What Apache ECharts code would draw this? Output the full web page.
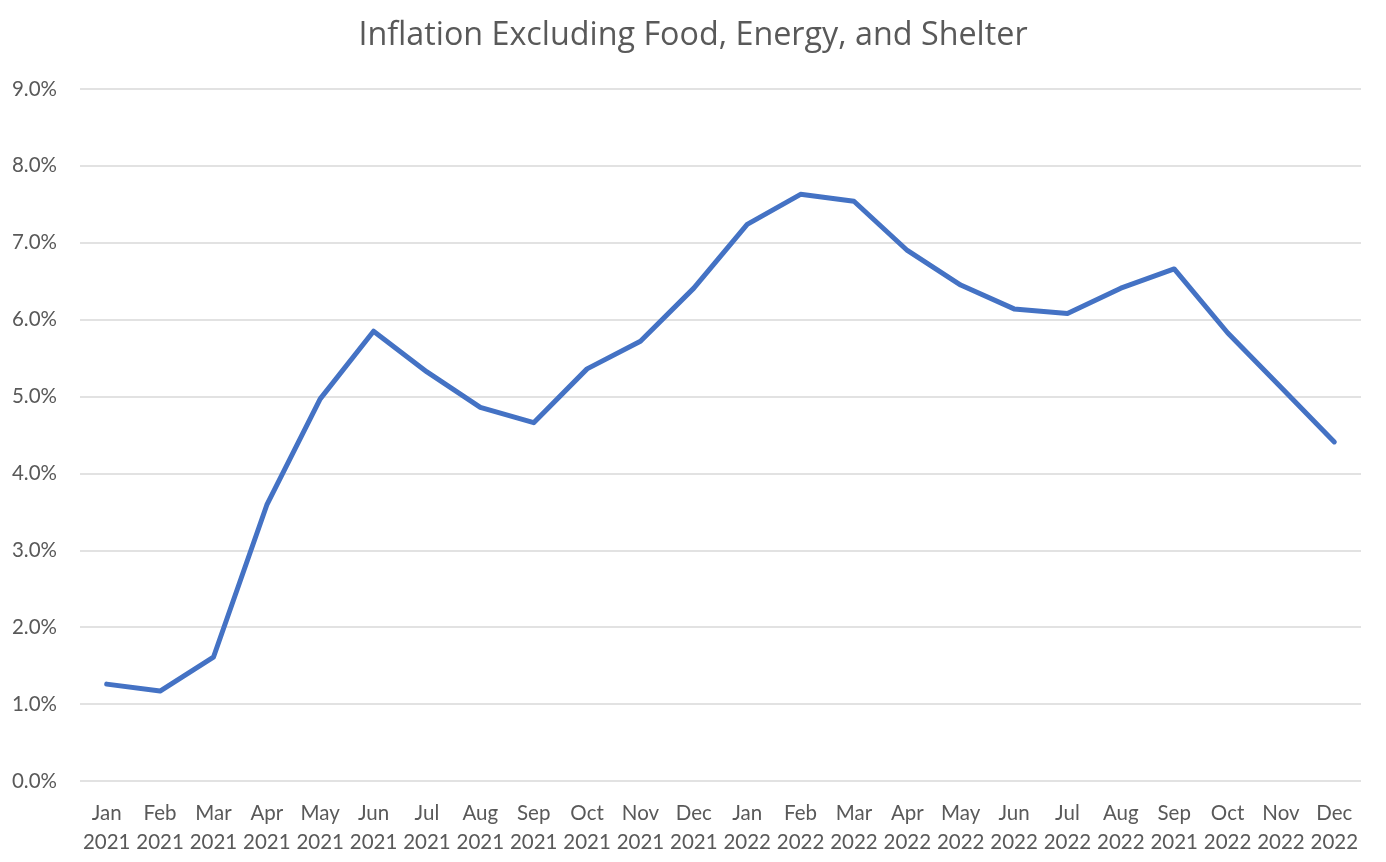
<!DOCTYPE html>
<html>
<head>
<meta charset="utf-8">
<script src="https://cdn.jsdelivr.net/npm/echarts@6/dist/echarts.min.js"></script>
<style>
  html, body { margin: 0; padding: 0; background: #fff; }
  #chart-wrap { width: 1386px; height: 862px; }
</style>
</head>
<body>
<div id="chart-wrap"></div>
<script>
const months = ["Jan", "Feb", "Mar", "Apr", "May", "Jun", "Jul", "Aug", "Sep", "Oct", "Nov", "Dec",
    "Jan", "Feb", "Mar", "Apr", "May", "Jun", "Jul", "Aug", "Sep", "Oct", "Nov", "Dec"];
const years = ["2021", "2021", "2021", "2021", "2021", "2021", "2021", "2021", "2021", "2021", "2021", "2021",
    "2022", "2022", "2022", "2022", "2022", "2022", "2022", "2022", "2021", "2022", "2022", "2022"];
// inflation in percent
const inflation = [1.26, 1.17, 1.61, 3.59, 4.97, 5.85, 5.32, 4.86, 4.66, 5.36, 5.72, 6.41,
    7.24, 7.63, 7.54, 6.90, 6.45, 6.14, 6.08, 6.41, 6.66, 5.83, 5.12, 4.41];

const categories = months.map((m, i) => m + "\n" + years[i]);
const fontName = "Lato, 'Liberation Sans', sans-serif";

function drawChart() {
    let myChart = echarts.init(document.querySelector("#chart-wrap"));
    let option = {
        backgroundColor: "#ffffff",
        animation: false,
        title: {
            text: "Inflation Excluding Food, Energy, and Shelter",
            left: "center",
            top: 15,
            textStyle: {
                fontFamily: "'Open Sans', sans-serif",
                fontSize: 32.3,
                fontWeight: "normal",
                color: "#595959",
            },
        },
        grid: {
            left: 80,
            right: 25,
            top: 89,
            bottom: 81,
        },
        xAxis: {
            type: "category",
            data: categories,
            boundaryGap: true,
            axisLine: { show: false },
            axisTick: { show: false },
            axisLabel: {
                interval: 0,
                margin: 18,
                fontFamily: fontName,
                fontSize: 20.5,
                lineHeight: 29,
                color: "#595959",
            },
        },
        yAxis: {
            type: "value",
            min: 0,
            max: 9,
            interval: 1,
            axisLine: { show: false },
            axisTick: { show: false },
            axisLabel: {
                margin: 23,
                fontFamily: fontName,
                fontSize: 20.5,
                color: "#595959",
                formatter: (v) => v.toFixed(1) + "%",
            },
            splitLine: {
                lineStyle: { color: "#d9d9d9", width: 1.5 },
            },
        },
        series: [
            {
                name: "Inflation",
                type: "line",
                data: inflation,
                showSymbol: false,
                symbol: "none",
                lineStyle: {
                    color: "#4472c4",
                    width: 5,
                    cap: "round",
                    join: "round",
                },
            },
        ],
    };
    myChart.setOption(option);
    window.addEventListener("resize", function () {
        myChart.resize();
    });
}

drawChart();
</script>
</body>
</html>
